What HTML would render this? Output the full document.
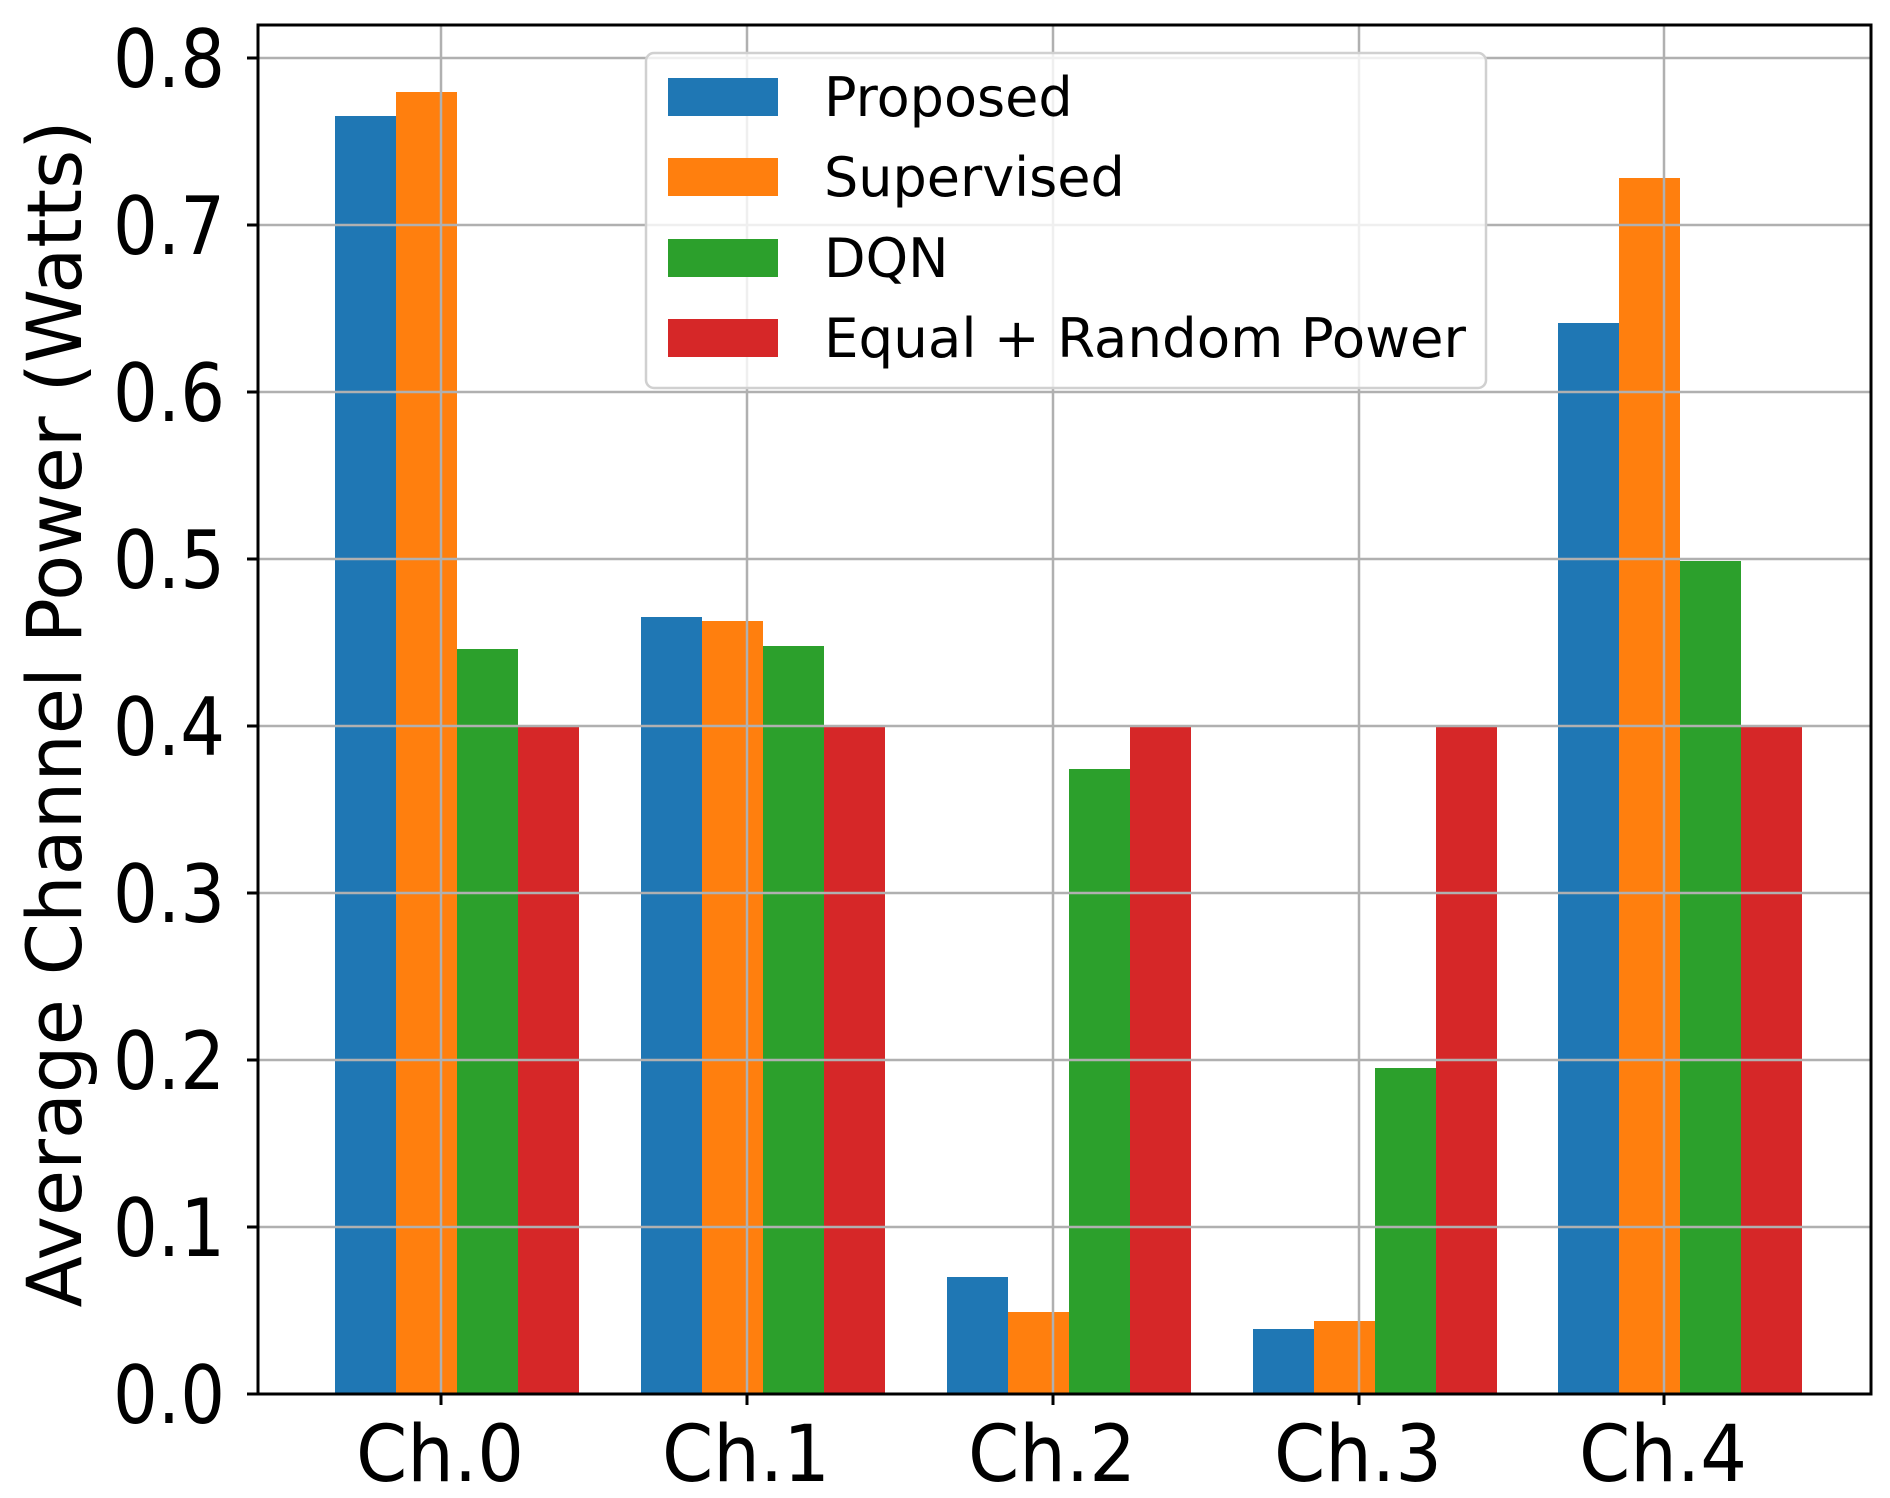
<!DOCTYPE html>
<html><head><meta charset="utf-8"><style>html,body{margin:0;padding:0;background:#fff}svg{display:block}text{font-family:"DejaVu Sans","Liberation Sans",sans-serif;fill:#000}</style></head>
<body>
<svg width="1890" height="1498" viewBox="0 0 1890 1498" xmlns="http://www.w3.org/2000/svg">
<rect width="1890" height="1498" fill="#fff"/>
<g>
<rect x="335" y="116" width="61" height="1278" fill="#1f77b4"/>
<rect x="396" y="92" width="61" height="1302" fill="#ff7f0e"/>
<rect x="457" y="649" width="61" height="745" fill="#2ca02c"/>
<rect x="518" y="726" width="61" height="668" fill="#d62728"/>
<rect x="641" y="617" width="61" height="777" fill="#1f77b4"/>
<rect x="702" y="621" width="61" height="773" fill="#ff7f0e"/>
<rect x="763" y="646" width="61" height="748" fill="#2ca02c"/>
<rect x="824" y="726" width="61" height="668" fill="#d62728"/>
<rect x="947" y="1277" width="61" height="117" fill="#1f77b4"/>
<rect x="1008" y="1312" width="61" height="82" fill="#ff7f0e"/>
<rect x="1069" y="769" width="61" height="625" fill="#2ca02c"/>
<rect x="1130" y="726" width="61" height="668" fill="#d62728"/>
<rect x="1253" y="1329" width="61" height="65" fill="#1f77b4"/>
<rect x="1314" y="1321" width="61" height="73" fill="#ff7f0e"/>
<rect x="1375" y="1068" width="61" height="326" fill="#2ca02c"/>
<rect x="1436" y="726" width="61" height="668" fill="#d62728"/>
<rect x="1558" y="323" width="61" height="1071" fill="#1f77b4"/>
<rect x="1619" y="178" width="61" height="1216" fill="#ff7f0e"/>
<rect x="1680" y="561" width="61" height="833" fill="#2ca02c"/>
<rect x="1741" y="726" width="61" height="668" fill="#d62728"/>
</g>
<g stroke="#b0b0b0" stroke-width="2.5">
<line x1="257" y1="1227" x2="1872" y2="1227"/>
<line x1="257" y1="1060" x2="1872" y2="1060"/>
<line x1="257" y1="893" x2="1872" y2="893"/>
<line x1="257" y1="726" x2="1872" y2="726"/>
<line x1="257" y1="559" x2="1872" y2="559"/>
<line x1="257" y1="392" x2="1872" y2="392"/>
<line x1="257" y1="225" x2="1872" y2="225"/>
<line x1="257" y1="58" x2="1872" y2="58"/>
<line x1="441" y1="24" x2="441" y2="1394"/>
<line x1="747" y1="24" x2="747" y2="1394"/>
<line x1="1053" y1="24" x2="1053" y2="1394"/>
<line x1="1359" y1="24" x2="1359" y2="1394"/>
<line x1="1664" y1="24" x2="1664" y2="1394"/>
</g>
<rect x="258" y="25" width="1613" height="1369" fill="none" stroke="#000" stroke-width="3"/>
<g stroke="#000" stroke-width="3">
<line x1="247" y1="1394" x2="258" y2="1394"/><line x1="247" y1="1227" x2="258" y2="1227"/>
<line x1="247" y1="1060" x2="258" y2="1060"/><line x1="247" y1="893" x2="258" y2="893"/>
<line x1="247" y1="726" x2="258" y2="726"/><line x1="247" y1="559" x2="258" y2="559"/>
<line x1="247" y1="392" x2="258" y2="392"/><line x1="247" y1="225" x2="258" y2="225"/>
<line x1="247" y1="58" x2="258" y2="58"/>
<line x1="441" y1="1394" x2="441" y2="1405"/><line x1="747" y1="1394" x2="747" y2="1405"/>
<line x1="1053" y1="1394" x2="1053" y2="1405"/><line x1="1359" y1="1394" x2="1359" y2="1405"/>
<line x1="1664" y1="1394" x2="1664" y2="1405"/>
</g>
<g font-size="80" text-anchor="end">
<text x="225" y="1423" textLength="112" lengthAdjust="spacingAndGlyphs">0.0</text>
<text x="225" y="1256" textLength="112" lengthAdjust="spacingAndGlyphs">0.1</text>
<text x="225" y="1089" textLength="112" lengthAdjust="spacingAndGlyphs">0.2</text>
<text x="225" y="922" textLength="112" lengthAdjust="spacingAndGlyphs">0.3</text>
<text x="225" y="755" textLength="112" lengthAdjust="spacingAndGlyphs">0.4</text>
<text x="225" y="588" textLength="112" lengthAdjust="spacingAndGlyphs">0.5</text>
<text x="225" y="421" textLength="112" lengthAdjust="spacingAndGlyphs">0.6</text>
<text x="225" y="254" textLength="112" lengthAdjust="spacingAndGlyphs">0.7</text>
<text x="225" y="87" textLength="112" lengthAdjust="spacingAndGlyphs">0.8</text>
</g>
<g font-size="78" text-anchor="middle">
<text x="440" y="1481" textLength="168" lengthAdjust="spacingAndGlyphs">Ch.0</text>
<text x="746" y="1481" textLength="168" lengthAdjust="spacingAndGlyphs">Ch.1</text>
<text x="1052" y="1481" textLength="168" lengthAdjust="spacingAndGlyphs">Ch.2</text>
<text x="1358" y="1481" textLength="168" lengthAdjust="spacingAndGlyphs">Ch.3</text>
<text x="1663" y="1481" textLength="168" lengthAdjust="spacingAndGlyphs">Ch.4</text>
</g>
<text transform="translate(81,714) rotate(-90)" font-size="76" text-anchor="middle" textLength="1187" lengthAdjust="spacingAndGlyphs">Average Channel Power (Watts)</text>
<rect x="646" y="53" width="840" height="335" rx="8" fill="#fff" fill-opacity="0.8" stroke="#d0d0d0" stroke-width="2.5"/>
<rect x="668" y="78" width="110" height="38" fill="#1f77b4"/>
<rect x="668" y="158" width="110" height="38" fill="#ff7f0e"/>
<rect x="668" y="239" width="110" height="38" fill="#2ca02c"/>
<rect x="668" y="319" width="110" height="38" fill="#d62728"/>
<g font-size="54">
<text x="824" y="116">Proposed</text>
<text x="824" y="196">Supervised</text>
<text x="824" y="277">DQN</text>
<text x="824" y="357" textLength="642" lengthAdjust="spacingAndGlyphs">Equal + Random Power</text>
</g>
</svg>
</body></html>
